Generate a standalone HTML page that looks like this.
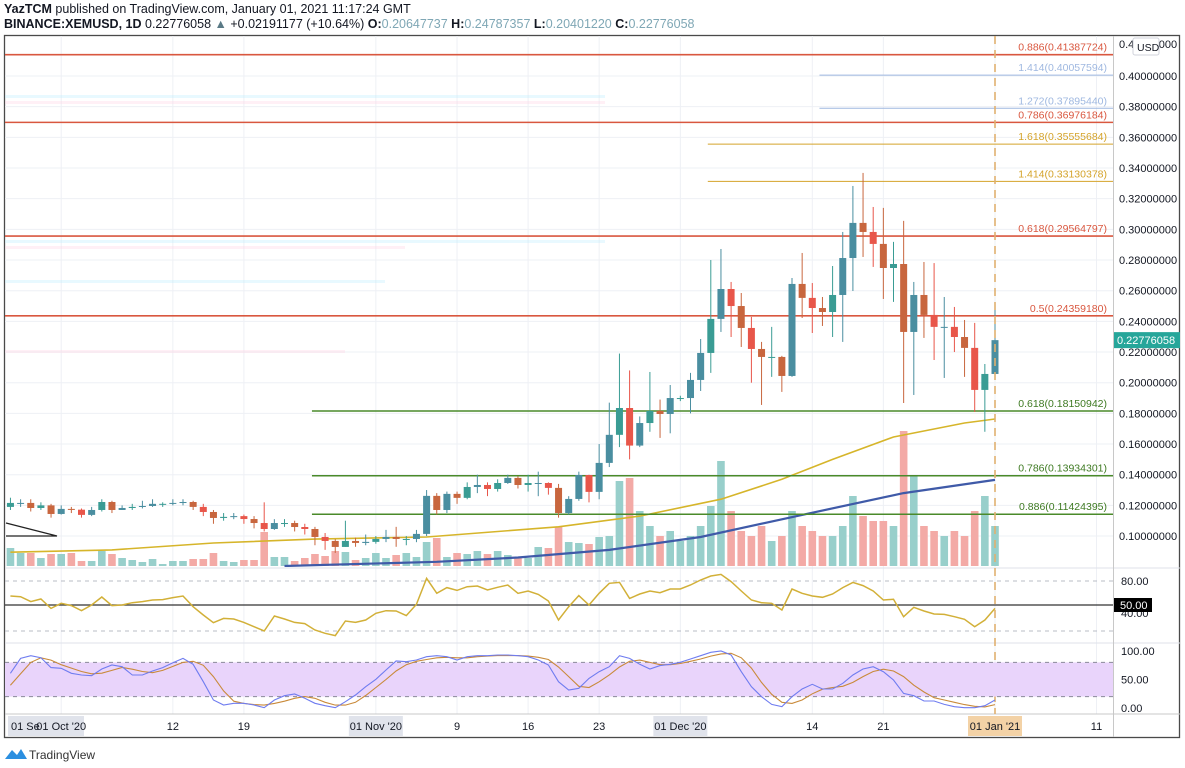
<!DOCTYPE html>
<html><head><meta charset="utf-8">
<style>
body{margin:0;background:#fff;width:1185px;height:768px;overflow:hidden;font-family:"Liberation Sans",sans-serif;}
#hdr1{position:absolute;left:4px;top:2px;font-size:12.5px;color:#131722;}
#hdr2{position:absolute;left:4px;top:17px;font-size:12.5px;color:#131722;}
.b{font-weight:bold}.v{color:#7fa7b5}
svg{position:absolute;left:0;top:0}
</style></head><body>
<div id="hdr1"><span class="b">YazTCM</span> published on TradingView.com, January 01, 2021 11:17:24 GMT</div>
<div id="hdr2"><span class="b">BINANCE:XEMUSD, 1D</span> 0.22776058 <span style="color:#5a7a86">▲</span> +0.02191177 (+10.64%) <span class="b">O:</span><span class="v">0.20647737</span> <span class="b">H:</span><span class="v">0.24787357</span> <span class="b">L:</span><span class="v">0.20401220</span> <span class="b">C:</span><span class="v">0.22776058</span></div>
<svg id="chart" width="1185" height="768"></svg>
<script>
// ---- data ----
const closes=[0.1216,0.1216,0.1183,0.120,0.1144,0.1177,0.1172,0.1138,0.117,0.1222,0.117,0.1183,0.119,0.1196,0.121,0.121,0.1216,0.1222,0.119,0.1157,0.1118,0.1125,0.113,0.1111,0.1085,0.1046,0.1085,0.1085,0.1059,0.1046,0.0994,0.0968,0.0929,0.0968,0.0955,0.0962,0.0981,0.0994,0.0981,0.0981,0.1014,0.1262,0.117,0.1275,0.1249,0.132,0.1333,0.1307,0.1346,0.1379,0.1333,0.1346,0.1346,0.1314,0.115,0.1242,0.1398,0.1288,0.1477,
0.166,0.1835,0.159,0.1737,0.1816,0.1796,0.19,0.19,0.2018,0.2194,0.2416,0.2611,0.25,0.2357,0.222,0.2168,0.2168,0.2044,0.2644,0.2553,0.2487,0.2461,0.2572,0.2813,0.3042,0.2983,0.2905,0.2748,0.2774,0.2331,0.2572,0.2442,0.2364,0.2364,0.2298,0.2227,0.1953,0.2057,0.22776058];
const firstOpen=0.119;
const highs=[0.125,0.124,0.124,0.122,0.121,0.120,0.119,0.118,0.119,0.124,0.123,0.120,0.121,0.123,0.124,0.122,0.124,0.124,0.123,0.121,0.117,0.115,0.115,0.114,0.113,0.122,0.111,0.111,0.110,0.108,0.106,0.102,0.098,0.110,0.099,0.101,0.100,0.104,0.106,0.100,0.104,0.130,0.128,0.129,0.129,0.135,0.140,0.135,0.137,0.140,0.139,0.140,0.142,0.135,0.134,0.126,0.142,0.140,0.160,
0.187,0.219,0.208,0.178,0.207,0.189,0.1985,0.1915,0.2064,0.2285,0.28,0.2872,0.2657,0.2585,0.2429,0.2266,0.2364,0.2175,0.2683,0.2846,0.265,0.2559,0.2761,0.2983,0.3283,0.3368,0.3146,0.314,0.2918,0.3055,0.2657,0.2787,0.278,0.2559,0.2494,0.2409,0.239,0.2122,0.2487];
const lows=[0.117,0.119,0.116,0.117,0.112,0.114,0.115,0.112,0.113,0.116,0.115,0.117,0.117,0.118,0.119,0.119,0.120,0.120,0.117,0.113,0.108,0.110,0.111,0.108,0.105,0.103,0.104,0.106,0.103,0.101,0.094,0.091,0.089,0.093,0.093,0.094,0.095,0.096,0.093,0.094,0.096,0.100,0.114,0.115,0.121,0.124,0.128,0.126,0.129,0.134,0.131,0.129,0.126,0.127,0.112,0.114,0.123,0.122,0.124,
0.145,0.158,0.15,0.158,0.168,0.164,0.167,0.188,0.18,0.1946,0.2064,0.2331,0.2298,0.2233,0.2,0.1855,0.2038,0.194,0.2038,0.2422,0.2324,0.237,0.2298,0.2266,0.2598,0.282,0.2755,0.2546,0.2527,0.1868,0.192,0.2292,0.2148,0.2031,0.22,0.2038,0.1809,0.168,0.205];
const volumes=[18,13,13,8,12,12,13,5,5,15,12,8,6,4,7,2,5,5,7,7,13,5,4,6,6,34,9,9,5,8,12,10,15,14,6,8,13,8,11,13,9,24,28,9,13,12,15,12,15,11,9,8,19,18,39,24,23,22,29,
30,85,88,55,40,30,35,25,30,40,60,105,55,35,30,40,25,30,55,40,35,30,30,40,70,50,45,45,40,135,90,40,35,30,35,30,55,70,40];
const rsi=[61.3,60.4,54.2,57.5,45.8,52.1,49.2,42.9,50,60,49.2,50,52.9,54.2,56.3,56.7,59.2,61.3,47.9,37.5,27.9,33.3,32.5,28.3,22.9,17.5,36.3,32.5,28.3,26.7,18.8,14.6,11.7,30,28.3,31.3,39.6,42.9,42.5,36.7,50.8,83.3,64.6,71.7,68.3,72.9,73.8,68.8,72.1,75,64.6,67.5,63.3,55,31.3,47.9,61.7,50,64.6,
77.1,78.3,58.3,63.8,67.5,65.4,70,70,75,81.3,86.3,88.3,79.2,67.5,56.3,52.9,52.1,43.8,70,64.6,61.3,59.6,63.8,71.7,78.3,74.2,67.5,56.3,57.1,35.4,47.1,42.5,38.8,38.3,35.4,32.1,22.9,31.3,45.8];
const stochK=[60.8,87.1,91.8,88.3,70.8,69.6,60.8,57.9,56.7,68.4,75.4,72.5,57.9,57.9,64.9,70.8,79.5,87.1,76.6,46.2,14,5.3,8.2,8.2,5.3,0.6,14,21.6,24.6,17,8.2,4.1,0.6,11.1,22.8,37.4,50.3,66.7,82.5,81.3,84.2,90,91.8,90,84.2,90,91.8,91.8,93,93,91.8,90,84.2,75.4,46.2,31.6,34.5,52,63.7,
72.5,91.8,87.1,76.6,68.4,74.3,76.6,80.1,85.9,91.8,97.7,100,93,63.7,37.4,19.9,6.4,2.3,19.9,33.3,41.5,33.3,33.3,43.3,57.9,68.4,72.5,63.7,49.1,25.7,21.6,12.3,12.3,6.4,2.3,0.6,0.6,4.1,14];
const stochD=[40,60,80,88,84,76,70,64,60,61,66,71,68,64,62,66,73,80,82,75,55,30,12,8,6,5,8,12,17,20,17,10,5,5,10,22,36,50,65,76,82,85,88,89,88,88,90,91,92,92,92,91,89,85,72,55,38,36,46,
58,72,82,84,80,76,76,78,82,86,91,95,96,88,70,45,24,10,8,14,25,33,36,38,45,55,64,68,65,55,40,28,18,14,10,6,3,2,6];
const ma1Days=[0,10,20,30,41,54,62,70,76,81,87,94,97];
const ma1Vals=[0.0895,0.091,0.0955,0.098,0.0994,0.106,0.113,0.124,0.137,0.150,0.1646,0.1737,0.1763];
const ma2Days=[27,42,50,59,68,78,88,97];
const ma2Vals=[0.0805,0.0832,0.086,0.091,0.0994,0.1138,0.128,0.1366];
const priceTicks=[0.10,0.12,0.14,0.16,0.18,0.20,0.22,0.24,0.26,0.28,0.30,0.32,0.34,0.36,0.38,0.40];
const fibLevels=[0.41387724,0.40057594,0.37895440,0.36976184,0.35555684,0.33130378,0.29564797,0.24359180,0.18150942,0.13934301,0.11424395];
const fibNames=["0.886","1.414","1.272","0.786","1.618","1.414","0.618","0.5","0.618","0.786","0.886"];
const fibColors=["#d9573f","#9fb8e0","#9fb8e0","#d9573f","#d4a32a","#d4a32a","#d9573f","#d9573f","#4a8a2a","#4a8a2a","#4a8a2a"];
const fibStartDay=[-1,80,80,-1,69,69,-1,-1,30,30,30];
const dateDays=[5,16,23,36,44,51,58,66,79,86,97,107];
const dateLabels=["01 Oct '20","12","19","01 Nov '20","9","16","23","01 Dec '20","14","21","01 Jan '21","11"];
const lastDay=97;

// ---- scales ----
const NS="http://www.w3.org/2000/svg";
const svg=document.getElementById('chart');
const X=d=>995-(lastDay-d)*10.15;
const Y=p=>76+(0.40-p)*1533.5;
const YR=v=>605-(v-50)*0.8;
const YS=v=>708-v*0.57;
const YV=v=>566-v;
function mk(tag,attrs,parent){const e=document.createElementNS(NS,tag);for(const k in attrs)e.setAttribute(k,attrs[k]);(parent||svg).appendChild(e);return e;}

// frame & grid
const frame=mk('rect',{x:4.5,y:35.5,width:1175,height:702,fill:'none',stroke:'#4a4a4a','stroke-width':1.3});


const grid=mk('g',{stroke:'#eef0f5','stroke-width':1});


dateDays.forEach(d=>{mk('line',{x1:X(d),x2:X(d),y1:36,y2:714},grid);});
priceTicks.forEach(p=>{mk('line',{x1:5,x2:1113,y1:Y(p),y2:Y(p)},grid);});
// faint fib ghosts at left
const ghosts=mk('g',{opacity:0.35});


[[95,600,'#bfefff'],[101,600,'#ffd6e6'],[240,600,'#bfefff'],[246,400,'#ffd6e6'],[280,380,'#bfefff'],[350,340,'#ffd6e6']].forEach(g=>{mk('rect',{x:5,y:g[0],width:g[1],height:3,fill:g[2]},ghosts);});

// separators
[568,643,714].forEach(y=>{const l=mk('line',{x1:5,x2:1180,y1:y,y2:y,stroke:y==714?'#c8c8c8':'#dfe2ea','stroke-width':1});

});
const axl=mk('line',{x1:1113.5,x2:1113.5,y1:36,y2:737,stroke:'#c8c8c8'});



// clip for main pane
const defs=mk('defs',{});
const cp=mk('clipPath',{id:'mainclip'},defs);mk('rect',{x:5,y:36,width:1108,height:531},cp);
const main=mk('g',{'clip-path':'url(#mainclip)'});



// volumes
closes.forEach((c,i)=>{const o=i?closes[i-1]:firstOpen;const up=c>=o;
const r=mk('rect',{x:X(i)-3.8,y:YV(volumes[i]),width:7.6,height:volumes[i],fill:up?'#98cfcb':'#f3aaa6'},main);

});

// moving averages
function ptsMA(days,vals){return days.map((d,i)=>X(d).toFixed(1)+','+Y(vals[i]).toFixed(1)).join(' ');}
const ma1=mk('polyline',{points:ptsMA(ma1Days,ma1Vals),fill:'none',stroke:'#d6b52a','stroke-width':1.6},main);


const ma2=mk('polyline',{points:ptsMA(ma2Days,ma2Vals),fill:'none',stroke:'#3f5aa8','stroke-width':2.2},main);



// triangle lines at left
const tri=mk('polyline',{points:'6,523 57,536 6,536',fill:'none',stroke:'#222','stroke-width':1.2},main);



// fib lines
fibLevels.forEach((p,i)=>{const x1=fibStartDay[i]<0?5:X(fibStartDay[i])-3;const y=Y(p);
const thick=fibColors[i]=='#d9573f'?1.6:(fibColors[i]=='#4a8a2a'?1.5:1);
const l=mk('line',{x1:x1,x2:1113,y1:y,y2:y,stroke:fibColors[i],'stroke-width':thick},main);


const t=mk('text',{x:1107,y:y-4,'text-anchor':'end','font-size':10.5,fill:fibColors[i]=='#4a8a2a'?'#3e7a22':fibColors[i],'font-family':'Liberation Sans, sans-serif'},main);
t.textContent=fibNames[i]+'('+p.toFixed(8)+')';

});

// candles
closes.forEach((c,i)=>{const o=i?closes[i-1]:firstOpen;const up=c>=o;const col=up?(i%3==0?'#3a9c94':'#4a8ea0'):(i%2?'#e8564a':'#c8663e');
const g=mk('g',{},main);


mk('line',{x1:X(i),x2:X(i),y1:Y(highs[i]),y2:Y(lows[i]),stroke:col,'stroke-width':1},g);
const top=Y(Math.max(o,c)),h=Math.max(1,Math.abs(Y(o)-Y(c)));
mk('rect',{x:X(i)-3.5,y:top,width:7,height:h,fill:col},g);});

// vertical dashed line at last bar
const vd=mk('line',{x1:X(lastDay),x2:X(lastDay),y1:36,y2:714,stroke:'#e0b070','stroke-width':1.6,'stroke-dasharray':'8,6'});



// price axis labels
priceTicks.forEach(p=>{const t=mk('text',{x:1119,y:Y(p)+4,'font-size':11,fill:'#131722'});t.textContent=p.toFixed(8);

});
const cut=mk('text',{x:1119,y:48,'font-size':11,fill:'#131722'});cut.textContent='0.42000000';


const ub=mk('rect',{x:1133,y:38,width:26,height:17,rx:2,fill:'#fff',stroke:'#d0d3db'});


const ut=mk('text',{x:1137,y:51,'font-size':10.5,fill:'#131722'});ut.textContent='USD';


const cpY=Y(closes[lastDay]);
const cpb=mk('rect',{x:1114,y:cpY-8,width:66,height:16,fill:'#26a69a'});


const cpt=mk('text',{x:1117,y:cpY+4,'font-size':11,fill:'#fff'});cpt.textContent=closes[lastDay].toFixed(8);



// RSI pane
[80,17.5].forEach(v=>{const l=mk('line',{x1:5,x2:1113,y1:YR(v),y2:YR(v),stroke:'#b8bcc6','stroke-dasharray':'4,4'});

});
const mid=mk('line',{x1:5,x2:1113,y1:YR(50),y2:YR(50),stroke:'#333','stroke-width':1.2});


const rl=mk('polyline',{points:rsi.map((v,i)=>X(i).toFixed(1)+','+YR(v).toFixed(1)).join(' '),fill:'none',stroke:'#d2b038','stroke-width':1.5});


[[80,'80.00'],[40,'40.00']].forEach(a=>{const t=mk('text',{x:1121,y:YR(a[0])+4,'font-size':11,fill:'#131722'});t.textContent=a[1];

});
const rb=mk('rect',{x:1114,y:YR(50)-7,width:38,height:14,fill:'#000'});


const rbt=mk('text',{x:1120,y:YR(50)+4,'font-size':11,fill:'#fff'});rbt.textContent='50.00';



// Stoch pane
const band=mk('rect',{x:5,y:YS(80),width:1108,height:YS(20)-YS(80),fill:'#e9d4fb'});


[80,20].forEach(v=>{const l=mk('line',{x1:5,x2:1113,y1:YS(v),y2:YS(v),stroke:'#8a8a99','stroke-dasharray':'4,4'});

});
const kd=mk('polyline',{points:stochD.map((v,i)=>X(i).toFixed(1)+','+YS(v).toFixed(1)).join(' '),fill:'none',stroke:'#c98a3a','stroke-width':1.1});


const kk=mk('polyline',{points:stochK.map((v,i)=>X(i).toFixed(1)+','+YS(v).toFixed(1)).join(' '),fill:'none',stroke:'#6f7cf0','stroke-width':1.1});


[[100,'100.00'],[50,'50.00'],[0,'0.00']].forEach(a=>{const t=mk('text',{x:1121,y:YS(a[0])+4,'font-size':11,fill:'#131722'});t.textContent=a[1];

});

// time axis
const sb=mk('rect',{x:8,y:716,width:76,height:20,fill:'#e0e3eb'});


const st=mk('text',{x:11,y:730,'font-size':11,fill:'#131722'});st.textContent='01 Se';


dateLabels.forEach((s,i)=>{const x=X(dateDays[i]);const big=s.length>3;
if(big&&i>0){const r=mk('rect',{x:x-27,y:716,width:54,height:20,fill:s.indexOf('Jan')>=0?'#f3d2a6':'#e0e3eb'});

}
const t=mk('text',{x:x,y:730,'font-size':11,'text-anchor':'middle',fill:'#131722'});t.textContent=s;

});

// logo
const lg=mk('g',{});


mk('path',{d:'M5 759 L12 750 L17 755 L21 749 L27 759 Z',fill:'#2b8fe0'},lg);
const lt=mk('text',{x:29,y:759,'font-size':12,fill:'#333'},lg);lt.textContent='TradingView';
</script>
</body></html>
